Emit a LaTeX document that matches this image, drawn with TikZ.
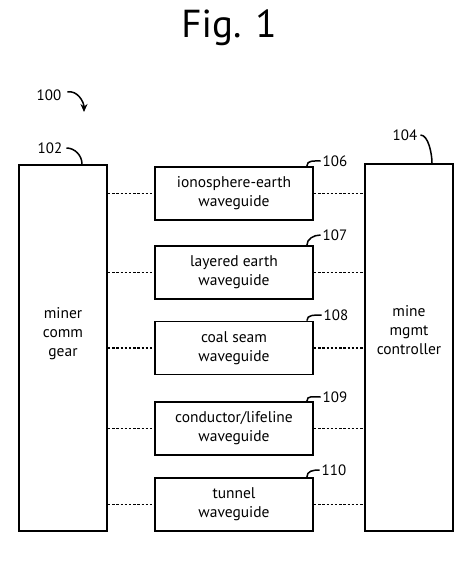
\documentclass[tikz,border=0pt]{standalone}
\usepackage{fontspec}
\setmainfont{PT Sans}
\usetikzlibrary{arrows.meta}
\begin{document}
\begin{tikzpicture}[x=1pt,y=-1pt,
  txt/.style={align=center,inner sep=0pt,font=\fontsize{15.5}{19}\selectfont},
  box/.style={draw,line width=1.8pt,txt},
  bigbox/.style={draw,line width=1.8pt,minimum width=88pt,minimum height=366pt},
  wg/.style={box,minimum width=158pt,minimum height=53pt},
  dots/.style={line width=1.8pt,dash pattern=on 2.4pt off 1.8pt},
  lead/.style={line width=1.5pt},
  lbl/.style={font=\fontsize{15}{17}\selectfont,inner sep=0pt}]
\useasboundingbox (0,0) rectangle (474,567);
\node[font=\fontsize{39}{45}\selectfont,inner sep=0pt] (title) at (229,28) {Fig. 1};

\node[bigbox] (gear) at (63,348) {};
\node[bigbox,minimum height=367pt] (ctrl) at (409,347.5) {};
\node[txt] (geartxt) at (63,334) {miner\\comm\\gear};
\node[txt] (ctrltxt) at (409,330) {mine\\mgmt\\controller};

\node[wg] (w106) at (234,193.5) {ionosphere-earth\\waveguide};
\node[wg] (w107) at (234,272.5) {layered earth\\waveguide};
\node[wg] (w108) at (234,348) {coal seam\\waveguide};
\node[wg] (w109) at (234,428.5) {conductor/lifeline\\waveguide};
\node[wg] (w110) at (234,504.5) {tunnel\\waveguide};

\foreach \w in {w106,w107,w108,w109,w110}{
  \draw[dots] (gear.east |- \w.west) -- (\w.west);
  \draw[dots] (\w.east) -- (ctrl.west |- \w.east);
}

\node[lbl] (l100) at (49,95) {100};
\node[lbl] (l102) at (50,148) {102};
\node[lbl] (l104) at (405,135) {104};
\node[lbl] (l106) at (335,161) {106};
\node[lbl] (l107) at (335,235) {107};
\node[lbl] (l108) at (336,315) {108};
\node[lbl] (l109) at (335,397) {109};
\node[lbl] (l110) at (334,470) {110};

\coordinate (t102) at ([xshift=19pt]gear.north);
\coordinate (t104) at ([xshift=23pt]ctrl.north);
\draw[lead] ([xshift=4pt]l102.east) .. controls +(8,0) and +(0,-9) .. (t102);
\draw[lead] ([xshift=3pt]l104.east) .. controls +(8,0) and +(0,-9) .. (t104);

\foreach \n in {106,107,108,109,110}{
  \coordinate (t\n) at ([xshift=-7pt]w\n.north east);
  \draw[lead] (t\n) .. controls +(0,-6) and +(-7,0) .. ([xshift=-2pt]l\n.west);
}

\draw[lead,-{Stealth[length=8pt,width=7pt]}] ([xshift=6pt,yshift=3pt]l100.east) .. controls +(10,-2) and +(0,-10) .. (84,112);
\end{tikzpicture}
\end{document}
